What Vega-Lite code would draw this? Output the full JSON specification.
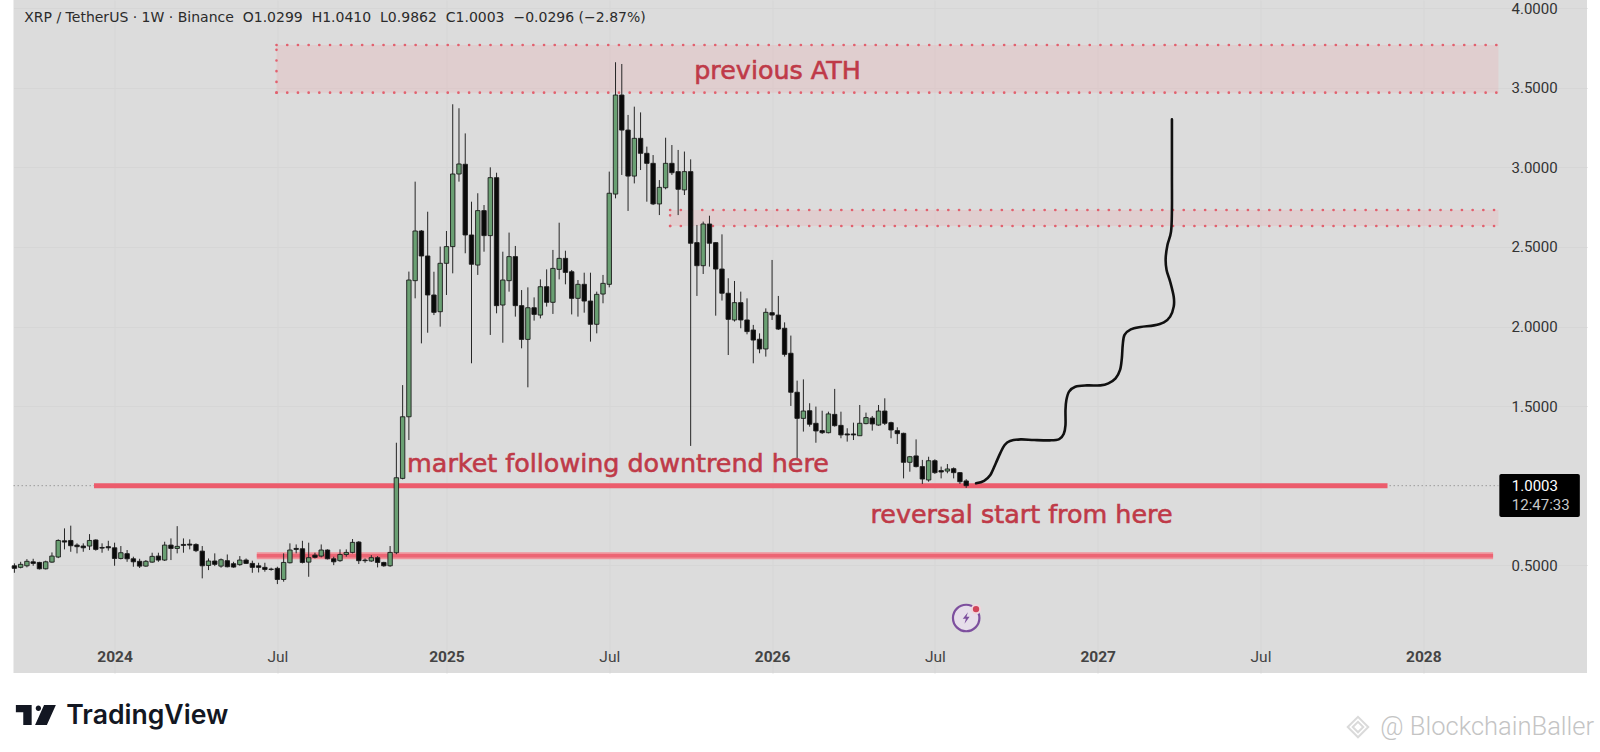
{
  "$schema": "https://vega.github.io/schema/vega-lite/v6.json",
  "autosize": {"type": "none"},
  "width": 1573.5,
  "height": 673,
  "padding": {"left": 13.5, "right": 13, "top": 0, "bottom": 79},
  "background": "#ffffff",
  "config": {"view": {"fill": "#dcdcdc", "stroke": null}},
  "datasets": {
    "candles": [
      {"date":"2023-09-11","open":0.497,"high":0.512,"low":0.453,"close":0.481},
      {"date":"2023-09-18","open":0.487,"high":0.522,"low":0.481,"close":0.506},
      {"date":"2023-09-25","open":0.497,"high":0.539,"low":0.487,"close":0.525},
      {"date":"2023-10-02","open":0.522,"high":0.541,"low":0.497,"close":0.512},
      {"date":"2023-10-09","open":0.518,"high":0.522,"low":0.474,"close":0.478},
      {"date":"2023-10-16","open":0.478,"high":0.529,"low":0.474,"close":0.522},
      {"date":"2023-10-23","open":0.520,"high":0.581,"low":0.516,"close":0.558},
      {"date":"2023-10-30","open":0.552,"high":0.663,"low":0.545,"close":0.656},
      {"date":"2023-11-06","open":0.654,"high":0.732,"low":0.600,"close":0.646},
      {"date":"2023-11-13","open":0.656,"high":0.749,"low":0.585,"close":0.623},
      {"date":"2023-11-20","open":0.627,"high":0.638,"low":0.575,"close":0.617},
      {"date":"2023-11-27","open":0.621,"high":0.638,"low":0.585,"close":0.610},
      {"date":"2023-12-04","open":0.621,"high":0.696,"low":0.596,"close":0.656},
      {"date":"2023-12-11","open":0.659,"high":0.663,"low":0.592,"close":0.600},
      {"date":"2023-12-18","open":0.612,"high":0.638,"low":0.579,"close":0.608},
      {"date":"2023-12-25","open":0.617,"high":0.654,"low":0.592,"close":0.610},
      {"date":"2024-01-01","open":0.610,"high":0.642,"low":0.497,"close":0.543},
      {"date":"2024-01-08","open":0.543,"high":0.621,"low":0.537,"close":0.579},
      {"date":"2024-01-15","open":0.573,"high":0.596,"low":0.522,"close":0.541},
      {"date":"2024-01-22","open":0.541,"high":0.554,"low":0.491,"close":0.522},
      {"date":"2024-01-29","open":0.525,"high":0.541,"low":0.483,"close":0.495},
      {"date":"2024-02-05","open":0.495,"high":0.533,"low":0.491,"close":0.525},
      {"date":"2024-02-12","open":0.520,"high":0.579,"low":0.516,"close":0.556},
      {"date":"2024-02-19","open":0.558,"high":0.579,"low":0.522,"close":0.533},
      {"date":"2024-02-26","open":0.533,"high":0.648,"low":0.527,"close":0.627},
      {"date":"2024-03-04","open":0.627,"high":0.669,"low":0.533,"close":0.606},
      {"date":"2024-03-11","open":0.606,"high":0.746,"low":0.575,"close":0.619},
      {"date":"2024-03-18","open":0.631,"high":0.669,"low":0.579,"close":0.625},
      {"date":"2024-03-25","open":0.633,"high":0.663,"low":0.600,"close":0.627},
      {"date":"2024-04-01","open":0.631,"high":0.638,"low":0.583,"close":0.592},
      {"date":"2024-04-08","open":0.589,"high":0.621,"low":0.418,"close":0.497},
      {"date":"2024-04-15","open":0.499,"high":0.543,"low":0.470,"close":0.527},
      {"date":"2024-04-22","open":0.527,"high":0.575,"low":0.495,"close":0.506},
      {"date":"2024-04-29","open":0.495,"high":0.543,"low":0.485,"close":0.535},
      {"date":"2024-05-06","open":0.529,"high":0.568,"low":0.487,"close":0.491},
      {"date":"2024-05-13","open":0.510,"high":0.522,"low":0.485,"close":0.489},
      {"date":"2024-05-20","open":0.504,"high":0.558,"low":0.497,"close":0.533},
      {"date":"2024-05-27","open":0.533,"high":0.543,"low":0.508,"close":0.512},
      {"date":"2024-06-03","open":0.512,"high":0.529,"low":0.453,"close":0.487},
      {"date":"2024-06-10","open":0.497,"high":0.516,"low":0.455,"close":0.487},
      {"date":"2024-06-17","open":0.487,"high":0.516,"low":0.460,"close":0.474},
      {"date":"2024-06-24","open":0.476,"high":0.485,"low":0.466,"close":0.474},
      {"date":"2024-07-01","open":0.481,"high":0.491,"low":0.382,"close":0.411},
      {"date":"2024-07-08","open":0.411,"high":0.575,"low":0.397,"close":0.518},
      {"date":"2024-07-15","open":0.516,"high":0.638,"low":0.512,"close":0.596},
      {"date":"2024-07-22","open":0.606,"high":0.631,"low":0.575,"close":0.600},
      {"date":"2024-07-29","open":0.604,"high":0.654,"low":0.512,"close":0.518},
      {"date":"2024-08-05","open":0.520,"high":0.642,"low":0.428,"close":0.548},
      {"date":"2024-08-12","open":0.564,"high":0.579,"low":0.543,"close":0.550},
      {"date":"2024-08-19","open":0.558,"high":0.631,"low":0.550,"close":0.596},
      {"date":"2024-08-26","open":0.596,"high":0.600,"low":0.537,"close":0.541},
      {"date":"2024-09-02","open":0.541,"high":0.554,"low":0.501,"close":0.522},
      {"date":"2024-09-09","open":0.529,"high":0.600,"low":0.522,"close":0.568},
      {"date":"2024-09-16","open":0.568,"high":0.600,"low":0.554,"close":0.581},
      {"date":"2024-09-23","open":0.581,"high":0.665,"low":0.575,"close":0.644},
      {"date":"2024-09-30","open":0.646,"high":0.652,"low":0.508,"close":0.529},
      {"date":"2024-10-07","open":0.533,"high":0.543,"low":0.516,"close":0.529},
      {"date":"2024-10-14","open":0.527,"high":0.564,"low":0.522,"close":0.548},
      {"date":"2024-10-21","open":0.548,"high":0.558,"low":0.487,"close":0.518},
      {"date":"2024-10-28","open":0.518,"high":0.522,"low":0.491,"close":0.497},
      {"date":"2024-11-04","open":0.497,"high":0.621,"low":0.491,"close":0.581},
      {"date":"2024-11-11","open":0.579,"high":1.270,"low":0.570,"close":1.050},
      {"date":"2024-11-18","open":1.046,"high":1.632,"low":1.040,"close":1.433},
      {"date":"2024-11-25","open":1.433,"high":2.345,"low":1.287,"close":2.292},
      {"date":"2024-12-02","open":2.288,"high":2.910,"low":2.177,"close":2.600},
      {"date":"2024-12-09","open":2.600,"high":2.606,"low":1.894,"close":2.443},
      {"date":"2024-12-16","open":2.443,"high":2.721,"low":1.961,"close":2.198},
      {"date":"2024-12-23","open":2.198,"high":2.344,"low":2.072,"close":2.089},
      {"date":"2024-12-30","open":2.093,"high":2.502,"low":1.999,"close":2.397},
      {"date":"2025-01-06","open":2.397,"high":2.600,"low":2.198,"close":2.502},
      {"date":"2025-01-13","open":2.502,"high":3.396,"low":2.334,"close":2.958},
      {"date":"2025-01-20","open":2.958,"high":3.371,"low":2.910,"close":3.021},
      {"date":"2025-01-27","open":3.019,"high":3.213,"low":2.460,"close":2.575},
      {"date":"2025-02-03","open":2.575,"high":2.784,"low":1.769,"close":2.391},
      {"date":"2025-02-10","open":2.386,"high":2.837,"low":2.324,"close":2.728},
      {"date":"2025-02-17","open":2.728,"high":2.763,"low":2.470,"close":2.571},
      {"date":"2025-02-24","open":2.571,"high":3.000,"low":1.947,"close":2.935},
      {"date":"2025-03-03","open":2.935,"high":2.966,"low":2.083,"close":2.131},
      {"date":"2025-03-10","open":2.135,"high":2.470,"low":1.898,"close":2.292},
      {"date":"2025-03-17","open":2.288,"high":2.590,"low":2.219,"close":2.439},
      {"date":"2025-03-24","open":2.439,"high":2.506,"low":2.062,"close":2.131},
      {"date":"2025-03-31","open":2.131,"high":2.229,"low":1.863,"close":1.919},
      {"date":"2025-04-07","open":1.919,"high":2.246,"low":1.618,"close":2.118},
      {"date":"2025-04-14","open":2.118,"high":2.183,"low":2.037,"close":2.076},
      {"date":"2025-04-21","open":2.072,"high":2.296,"low":2.051,"close":2.250},
      {"date":"2025-04-28","open":2.250,"high":2.359,"low":2.125,"close":2.152},
      {"date":"2025-05-05","open":2.152,"high":2.481,"low":2.079,"close":2.365},
      {"date":"2025-05-12","open":2.359,"high":2.652,"low":2.296,"close":2.428},
      {"date":"2025-05-19","open":2.428,"high":2.476,"low":2.265,"close":2.340},
      {"date":"2025-05-26","open":2.344,"high":2.355,"low":2.076,"close":2.177},
      {"date":"2025-06-02","open":2.177,"high":2.292,"low":2.062,"close":2.265},
      {"date":"2025-06-09","open":2.265,"high":2.338,"low":2.087,"close":2.160},
      {"date":"2025-06-16","open":2.160,"high":2.338,"low":1.905,"close":2.014},
      {"date":"2025-06-23","open":2.014,"high":2.219,"low":1.957,"close":2.202},
      {"date":"2025-06-30","open":2.204,"high":2.324,"low":2.146,"close":2.271},
      {"date":"2025-07-07","open":2.265,"high":2.973,"low":2.246,"close":2.837},
      {"date":"2025-07-14","open":2.832,"high":3.660,"low":2.805,"close":3.454},
      {"date":"2025-07-21","open":3.454,"high":3.649,"low":2.952,"close":3.234},
      {"date":"2025-07-28","open":3.234,"high":3.329,"low":2.726,"close":2.945},
      {"date":"2025-08-04","open":2.945,"high":3.381,"low":2.899,"close":3.182},
      {"date":"2025-08-11","open":3.182,"high":3.345,"low":2.983,"close":3.088},
      {"date":"2025-08-18","open":3.088,"high":3.130,"low":2.784,"close":3.025},
      {"date":"2025-08-25","open":3.025,"high":3.077,"low":2.763,"close":2.770},
      {"date":"2025-09-01","open":2.770,"high":2.920,"low":2.700,"close":2.874},
      {"date":"2025-09-08","open":2.872,"high":3.186,"low":2.862,"close":3.025},
      {"date":"2025-09-15","open":3.025,"high":3.140,"low":2.952,"close":2.966},
      {"date":"2025-09-22","open":2.973,"high":3.109,"low":2.700,"close":2.862},
      {"date":"2025-09-29","open":2.858,"high":3.099,"low":2.826,"close":2.973},
      {"date":"2025-10-06","open":2.973,"high":3.050,"low":1.250,"close":2.523},
      {"date":"2025-10-13","open":2.527,"high":2.638,"low":2.192,"close":2.382},
      {"date":"2025-10-20","open":2.382,"high":2.659,"low":2.330,"close":2.644},
      {"date":"2025-10-27","open":2.644,"high":2.696,"low":2.376,"close":2.523},
      {"date":"2025-11-03","open":2.527,"high":2.530,"low":2.068,"close":2.361},
      {"date":"2025-11-10","open":2.361,"high":2.579,"low":2.163,"close":2.209},
      {"date":"2025-11-17","open":2.209,"high":2.303,"low":1.821,"close":2.045},
      {"date":"2025-11-24","open":2.041,"high":2.286,"low":2.031,"close":2.150},
      {"date":"2025-12-01","open":2.150,"high":2.219,"low":1.989,"close":2.041},
      {"date":"2025-12-08","open":2.041,"high":2.177,"low":1.951,"close":1.968},
      {"date":"2025-12-15","open":1.978,"high":2.010,"low":1.769,"close":1.915},
      {"date":"2025-12-22","open":1.920,"high":1.957,"low":1.832,"close":1.859},
      {"date":"2025-12-29","open":1.859,"high":2.114,"low":1.811,"close":2.089},
      {"date":"2026-01-05","open":2.087,"high":2.418,"low":2.041,"close":2.072},
      {"date":"2026-01-12","open":2.072,"high":2.192,"low":1.978,"close":1.984},
      {"date":"2026-01-19","open":1.989,"high":2.026,"low":1.811,"close":1.825},
      {"date":"2026-01-26","open":1.832,"high":1.943,"low":1.501,"close":1.587},
      {"date":"2026-02-02","open":1.587,"high":1.660,"low":1.172,"close":1.423},
      {"date":"2026-02-09","open":1.423,"high":1.668,"low":1.340,"close":1.469},
      {"date":"2026-02-16","open":1.471,"high":1.518,"low":1.371,"close":1.386},
      {"date":"2026-02-23","open":1.392,"high":1.497,"low":1.270,"close":1.344},
      {"date":"2026-03-02","open":1.346,"high":1.471,"low":1.325,"close":1.333},
      {"date":"2026-03-09","open":1.333,"high":1.465,"low":1.329,"close":1.451},
      {"date":"2026-03-16","open":1.448,"high":1.608,"low":1.371,"close":1.377},
      {"date":"2026-03-23","open":1.379,"high":1.465,"low":1.298,"close":1.319},
      {"date":"2026-03-30","open":1.325,"high":1.361,"low":1.277,"close":1.319},
      {"date":"2026-04-06","open":1.325,"high":1.396,"low":1.287,"close":1.319},
      {"date":"2026-04-13","open":1.314,"high":1.507,"low":1.312,"close":1.392},
      {"date":"2026-04-20","open":1.390,"high":1.459,"low":1.386,"close":1.428},
      {"date":"2026-04-27","open":1.425,"high":1.438,"low":1.346,"close":1.388},
      {"date":"2026-05-04","open":1.381,"high":1.507,"low":1.377,"close":1.469},
      {"date":"2026-05-11","open":1.469,"high":1.549,"low":1.381,"close":1.392},
      {"date":"2026-05-18","open":1.396,"high":1.402,"low":1.298,"close":1.350},
      {"date":"2026-05-25","open":1.346,"high":1.367,"low":1.262,"close":1.327},
      {"date":"2026-06-01","open":1.329,"high":1.333,"low":1.046,"close":1.147},
      {"date":"2026-06-08","open":1.147,"high":1.187,"low":1.088,"close":1.182},
      {"date":"2026-06-15","open":1.187,"high":1.291,"low":1.115,"close":1.120},
      {"date":"2026-06-22","open":1.120,"high":1.162,"low":1.011,"close":1.042},
      {"date":"2026-06-29","open":1.036,"high":1.182,"low":1.025,"close":1.157},
      {"date":"2026-07-06","open":1.157,"high":1.166,"low":1.074,"close":1.082},
      {"date":"2026-07-13","open":1.095,"high":1.120,"low":1.046,"close":1.086},
      {"date":"2026-07-20","open":1.092,"high":1.136,"low":1.078,"close":1.105},
      {"date":"2026-07-27","open":1.107,"high":1.115,"low":1.046,"close":1.082},
      {"date":"2026-08-03","open":1.082,"high":1.086,"low":1.011,"close":1.025},
      {"date":"2026-08-10","open":1.0299,"high":1.041,"low":0.9862,"close":1.0003}
    ],
    "projection": [
      {"seq":1,"date":"2026-08-21","price":1.015},
      {"seq":2,"date":"2026-08-30","price":1.031},
      {"seq":3,"date":"2026-09-06","price":1.067},
      {"seq":4,"date":"2026-09-12","price":1.140},
      {"seq":5,"date":"2026-09-17","price":1.203},
      {"seq":6,"date":"2026-09-22","price":1.256},
      {"seq":7,"date":"2026-09-28","price":1.281},
      {"seq":8,"date":"2026-10-10","price":1.291},
      {"seq":9,"date":"2026-10-25","price":1.287},
      {"seq":10,"date":"2026-11-12","price":1.285},
      {"seq":11,"date":"2026-11-22","price":1.293},
      {"seq":12,"date":"2026-11-27","price":1.325},
      {"seq":13,"date":"2026-11-29","price":1.381},
      {"seq":14,"date":"2026-11-29","price":1.475},
      {"seq":15,"date":"2026-11-30","price":1.538},
      {"seq":16,"date":"2026-12-03","price":1.591},
      {"seq":17,"date":"2026-12-10","price":1.622},
      {"seq":18,"date":"2026-12-23","price":1.630},
      {"seq":19,"date":"2027-01-07","price":1.630},
      {"seq":20,"date":"2027-01-16","price":1.643},
      {"seq":21,"date":"2027-01-24","price":1.674},
      {"seq":22,"date":"2027-01-29","price":1.727},
      {"seq":23,"date":"2027-01-31","price":1.800},
      {"seq":24,"date":"2027-02-01","price":1.884},
      {"seq":25,"date":"2027-02-03","price":1.947},
      {"seq":26,"date":"2027-02-10","price":1.982},
      {"seq":27,"date":"2027-02-21","price":1.997},
      {"seq":28,"date":"2027-03-08","price":2.007},
      {"seq":29,"date":"2027-03-19","price":2.026},
      {"seq":30,"date":"2027-03-26","price":2.062},
      {"seq":31,"date":"2027-03-30","price":2.125},
      {"seq":32,"date":"2027-03-30","price":2.187},
      {"seq":33,"date":"2027-03-26","price":2.282},
      {"seq":34,"date":"2027-03-22","price":2.355},
      {"seq":35,"date":"2027-03-21","price":2.428},
      {"seq":36,"date":"2027-03-23","price":2.512},
      {"seq":37,"date":"2027-03-27","price":2.596},
      {"seq":38,"date":"2027-03-28","price":2.732},
      {"seq":39,"date":"2027-03-28","price":2.941},
      {"seq":40,"date":"2027-03-28","price":3.151},
      {"seq":41,"date":"2027-03-28","price":3.301}
    ],
    "zones": [
      {"start":"2024-06-30","end":"2028-03-27","top":3.768,"bottom":3.469},
      {"start":"2025-09-13","end":"2028-03-27","top":2.732,"bottom":2.631}
    ],
    "zoneEdges": [
      {"start":"2024-06-30","end":"2028-03-27","from":3.768,"to":3.768},
      {"start":"2024-06-30","end":"2028-03-27","from":3.469,"to":3.469},
      {"start":"2024-06-30","end":"2024-06-30","from":3.469,"to":3.768},
      {"start":"2025-09-13","end":"2028-03-27","from":2.732,"to":2.732},
      {"start":"2025-09-13","end":"2028-03-27","from":2.631,"to":2.631},
      {"start":"2025-09-13","end":"2025-09-13","from":2.631,"to":2.732}
    ]
  },
  "layer": [
    {
      "data": {"name": "zones"},
      "mark": {"type": "rect", "fill": "#eda3a8", "opacity": 0.24},
      "encoding": {
        "x": {
          "field": "start", "type": "temporal", "title": null,
          "scale": {"type": "utc", "padding": 0, "domain": [{"year": 2023, "month": 9, "date": 10, "utc": true}, {"year": 2028, "month": 7, "date": 4, "utc": true}]},
          "axis": {
            "values": [
              {"year": 2024, "month": 1, "date": 1, "utc": true},
              {"year": 2024, "month": 7, "date": 1, "utc": true},
              {"year": 2025, "month": 1, "date": 6, "utc": true},
              {"year": 2025, "month": 7, "date": 7, "utc": true},
              {"year": 2026, "month": 1, "date": 5, "utc": true},
              {"year": 2026, "month": 7, "date": 6, "utc": true},
              {"year": 2027, "month": 1, "date": 4, "utc": true},
              {"year": 2027, "month": 7, "date": 5, "utc": true},
              {"year": 2028, "month": 1, "date": 3, "utc": true}
            ],
            "labelExpr": "utcmonth(datum.value) == 0 ? utcFormat(datum.value, '%Y') : utcFormat(datum.value, '%b')",
            "labelFontWeight": {"condition": {"test": "utcmonth(datum.value) == 0", "value": "bold"}, "value": "normal"},
            "labelFont": "Roboto", "labelFontSize": 15.5, "labelColor": "#444444", "labelPadding": -24,
            "ticks": false, "domain": false, "grid": true, "gridColor": "#d6d6d6", "gridWidth": 1
          }
        },
        "x2": {"field": "end"},
        "y": {
          "field": "top", "type": "quantitative", "title": null,
          "scale": {"domain": [-0.1765, 4.051], "nice": false, "zero": false},
          "axis": {
            "orient": "right", "values": [0.5, 1.5, 2, 2.5, 3, 3.5, 4], "format": ".4f",
            "labelFont": "Roboto", "labelFontSize": 15, "labelColor": "#333333", "labelAlign": "left", "labelPadding": -76,
            "ticks": false, "domain": false, "grid": true, "gridColor": "#d6d6d6", "gridWidth": 1
          }
        },
        "y2": {"field": "bottom"}
      }
    },
    {
      "data": {"name": "zoneEdges"},
      "mark": {"type": "rule", "stroke": "#e2606e", "strokeWidth": 2.6, "strokeCap": "round", "strokeDash": [0.1, 10.6]},
      "encoding": {
        "x": {"field": "start", "type": "temporal", "title": null},
        "x2": {"field": "end"},
        "y": {"field": "from", "type": "quantitative", "title": null},
        "y2": {"field": "to"}
      }
    },
    {
      "data": {"values": [{"start": "2023-09-10", "end": "2028-03-27", "price": 1.0003}]},
      "mark": {"type": "rule", "stroke": "#9c9c9c", "strokeWidth": 1, "strokeDash": [1.5, 2.5]},
      "encoding": {
        "x": {"field": "start", "type": "temporal", "title": null},
        "x2": {"field": "end"},
        "y": {"field": "price", "type": "quantitative", "title": null}
      }
    },
    {
      "data": {"values": [{"start": "2023-12-09", "end": "2027-11-24", "price": 1.0}]},
      "mark": {"type": "rule", "stroke": "#ec5c6c", "strokeWidth": 5},
      "encoding": {
        "x": {"field": "start", "type": "temporal", "title": null},
        "x2": {"field": "end"},
        "y": {"field": "price", "type": "quantitative", "title": null}
      }
    },
    {
      "data": {"values": [{"start": "2024-06-08", "end": "2028-03-21", "price": 0.56}]},
      "mark": {"type": "rule", "stroke": "#f0939b", "strokeWidth": 7},
      "encoding": {
        "x": {"field": "start", "type": "temporal", "title": null},
        "x2": {"field": "end"},
        "y": {"field": "price", "type": "quantitative", "title": null}
      }
    },
    {
      "data": {"values": [{"start": "2024-06-08", "end": "2028-03-21", "price": 0.56}]},
      "mark": {"type": "rule", "stroke": "#ec6574", "strokeWidth": 3.5},
      "encoding": {
        "x": {"field": "start", "type": "temporal", "title": null},
        "x2": {"field": "end"},
        "y": {"field": "price", "type": "quantitative", "title": null}
      }
    },
    {
      "data": {"name": "candles"},
      "mark": {"type": "rule", "stroke": "#262626", "strokeWidth": 1},
      "encoding": {
        "x": {"field": "date", "type": "temporal", "title": null},
        "y": {"field": "low", "type": "quantitative", "title": null},
        "y2": {"field": "high"}
      }
    },
    {
      "data": {"name": "candles"},
      "mark": {"type": "bar", "size": 4.4, "stroke": "#1c1c1c", "strokeWidth": 0.9},
      "encoding": {
        "x": {"field": "date", "type": "temporal", "title": null},
        "y": {"field": "open", "type": "quantitative", "title": null},
        "y2": {"field": "close"},
        "fill": {"condition": {"test": "datum.close >= datum.open", "value": "#6aa073"}, "value": "#0a0a0a"}
      }
    },
    {
      "data": {"name": "projection"},
      "mark": {"type": "line", "stroke": "#111111", "strokeWidth": 2.6, "interpolate": "cardinal", "strokeCap": "round"},
      "encoding": {
        "x": {"field": "date", "type": "temporal", "title": null},
        "y": {"field": "price", "type": "quantitative", "title": null},
        "order": {"field": "seq", "type": "quantitative"}
      }
    },
    {
      "data": {"values": [
        {"date": "2025-10-10", "price": 3.605, "label": "previous ATH"},
        {"date": "2024-11-23", "price": 1.136, "label": "market following downtrend here"},
        {"date": "2026-04-25", "price": 0.816, "label": "reversal start from here"}
      ]},
      "mark": {"type": "text", "align": "left", "baseline": "middle", "font": "DejaVu Sans", "fontSize": 25.4, "fill": "#bf3a48", "stroke": "#bf3a48", "strokeWidth": 0.6},
      "encoding": {
        "x": {"field": "date", "type": "temporal", "title": null},
        "y": {"field": "price", "type": "quantitative", "title": null},
        "text": {"field": "label"}
      }
    },
    {
      "data": {"values": [{"date": "2023-09-22", "price": 3.935, "label": "XRP / TetherUS · 1W · Binance\u00a0\u00a0O1.0299\u00a0\u00a0H1.0410\u00a0\u00a0L0.9862\u00a0\u00a0C1.0003\u00a0\u00a0−0.0296 (−2.87%)"}]},
      "mark": {"type": "text", "align": "left", "baseline": "middle", "font": "DejaVu Sans", "fontSize": 14, "fill": "#2b2b2b"},
      "encoding": {
        "x": {"field": "date", "type": "temporal", "title": null},
        "y": {"field": "price", "type": "quantitative", "title": null},
        "text": {"field": "label"}
      }
    },
    {
      "data": {"values": [{"start": "2028-03-28", "end": "2028-06-26", "top": 1.0735, "bottom": 0.803}]},
      "mark": {"type": "rect", "fill": "#000000", "cornerRadius": 2},
      "encoding": {
        "x": {"field": "start", "type": "temporal", "title": null},
        "x2": {"field": "end"},
        "y": {"field": "top", "type": "quantitative", "title": null},
        "y2": {"field": "bottom"}
      }
    },
    {
      "data": {"values": [{"date": "2028-04-11", "price": 1.0003, "label": "1.0003"}]},
      "mark": {"type": "text", "align": "left", "baseline": "middle", "font": "Roboto", "fontSize": 15, "fill": "#ffffff"},
      "encoding": {
        "x": {"field": "date", "type": "temporal", "title": null},
        "y": {"field": "price", "type": "quantitative", "title": null},
        "text": {"field": "label"}
      }
    },
    {
      "data": {"values": [{"date": "2028-04-11", "price": 0.879, "label": "12:47:33"}]},
      "mark": {"type": "text", "align": "left", "baseline": "middle", "font": "Roboto", "fontSize": 15, "fill": "#c8c8c8"},
      "encoding": {
        "x": {"field": "date", "type": "temporal", "title": null},
        "y": {"field": "price", "type": "quantitative", "title": null},
        "text": {"field": "label"}
      }
    },
    {
      "data": {"values": [{"date": "2026-08-10", "price": 0.169}]},
      "mark": {"type": "point", "shape": "circle", "size": 700, "filled": true, "fill": "#e6deea", "opacity": 1, "stroke": "#7d4f9e", "strokeWidth": 2.2},
      "encoding": {
        "x": {"field": "date", "type": "temporal", "title": null},
        "y": {"field": "price", "type": "quantitative", "title": null}
      }
    },
    {
      "data": {"values": [{"date": "2026-08-10", "price": 0.169}]},
      "mark": {"type": "point", "shape": "M0.3 -1 L-0.6 0.15 L-0.05 0.15 L-0.3 1 L0.6 -0.2 L0.05 -0.2 Z", "size": 130, "filled": true, "fill": "#7d4f9e", "opacity": 1},
      "encoding": {
        "x": {"field": "date", "type": "temporal", "title": null},
        "y": {"field": "price", "type": "quantitative", "title": null}
      }
    },
    {
      "data": {"values": [{"date": "2026-08-21", "price": 0.225}]},
      "mark": {"type": "point", "shape": "circle", "size": 70, "filled": true, "fill": "#d0455a", "opacity": 1, "stroke": "#f0d5dc", "strokeWidth": 2},
      "encoding": {
        "x": {"field": "date", "type": "temporal", "title": null},
        "y": {"field": "price", "type": "quantitative", "title": null}
      }
    },
    {
      "data": {"values": [{"date": "2023-10-05", "price": -0.44}]},
      "mark": {"type": "point", "shape": "M-1 -0.5 L-0.21 -0.5 L-0.21 0.5 L-0.63 0.5 L-0.63 -0.13 L-1 -0.13 Z M-0.008 -0.336 a0.134 0.134 0 1 0 0.268 0 a0.134 0.134 0 1 0 -0.268 0 Z M0.41 -0.5 L1 -0.5 L0.55 0.5 L-0.04 0.5 Z", "size": 1600, "filled": true, "fill": "#131722", "opacity": 1},
      "encoding": {
        "x": {"field": "date", "type": "temporal", "title": null},
        "y": {"field": "price", "type": "quantitative", "title": null}
      }
    },
    {
      "data": {"values": [{"date": "2023-11-08", "price": -0.445, "label": "TradingView"}]},
      "mark": {"type": "text", "align": "left", "baseline": "middle", "font": "Inter", "fontSize": 26.6, "fontWeight": 600, "fill": "#131722"},
      "encoding": {
        "x": {"field": "date", "type": "temporal", "title": null},
        "y": {"field": "price", "type": "quantitative", "title": null},
        "text": {"field": "label"}
      }
    },
    {
      "data": {"values": [{"date": "2027-10-22", "price": -0.516}]},
      "mark": {"type": "point", "shape": "diamond", "size": 420, "filled": false, "stroke": "#dadada", "strokeWidth": 2, "opacity": 1},
      "encoding": {
        "x": {"field": "date", "type": "temporal", "title": null},
        "y": {"field": "price", "type": "quantitative", "title": null}
      }
    },
    {
      "data": {"values": [{"date": "2027-10-22", "price": -0.516}]},
      "mark": {"type": "point", "shape": "diamond", "size": 110, "filled": false, "stroke": "#dadada", "strokeWidth": 2, "opacity": 1},
      "encoding": {
        "x": {"field": "date", "type": "temporal", "title": null},
        "y": {"field": "price", "type": "quantitative", "title": null}
      }
    },
    {
      "data": {"values": [{"date": "2027-11-16", "price": -0.516, "label": "@ BlockchainBaller"}]},
      "mark": {"type": "text", "align": "left", "baseline": "middle", "font": "Roboto", "fontSize": 25.5, "fontWeight": 300, "fill": "#c4c4c4"},
      "encoding": {
        "x": {"field": "date", "type": "temporal", "title": null},
        "y": {"field": "price", "type": "quantitative", "title": null},
        "text": {"field": "label"}
      }
    }
  ]
}
